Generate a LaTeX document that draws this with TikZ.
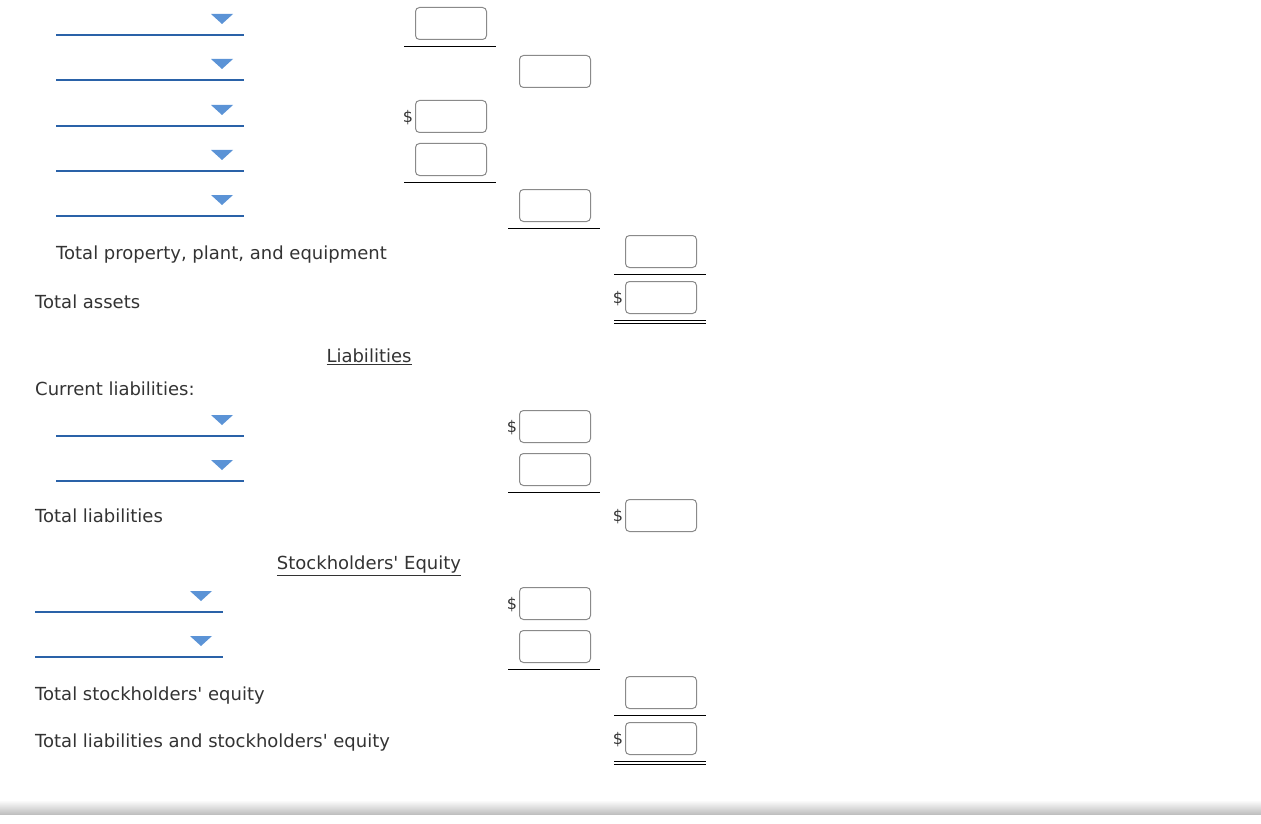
\documentclass[tikz,border=0pt]{standalone}
\usepackage{fontspec}
\setmainfont{DejaVu Sans}
\usetikzlibrary{calc}
\definecolor{lineblue}{HTML}{2A62A8}
\definecolor{triblue}{HTML}{5B93D6}
\definecolor{boxgray}{HTML}{8A8A8A}
\definecolor{txtgray}{HTML}{333333}

\begin{document}
\begin{tikzpicture}[x=1pt,y=-1pt,
  label text/.style={anchor=west,inner sep=0pt,font=\fontsize{18}{20}\selectfont,text=txtgray},
  head text/.style={inner sep=1pt,font=\fontsize{18}{20}\selectfont,text=txtgray},
  ans box/.style={draw=boxgray,line width=1pt,rounded corners=4pt,minimum width=71pt,minimum height=32pt,inner sep=0pt,anchor=north west},
  dollar/.style={font=\fontsize{16}{18}\selectfont,text=txtgray,inner sep=0pt},
  rule line/.style={black,line width=0.8pt},
  drop line/.style={lineblue,line width=2.2pt},
  drop tri/.style={fill=triblue}]

  \useasboundingbox (0,0) rectangle (1261,824);

  % dropdown menus
  \foreach \x/\y/\n in {56/35/d1,56/80/d2,56/126/d3,56/171/d4,56/216/d5,56/436/d6,56/481/d7,35/612/d8,35/657/d9}{
    \coordinate (\n) at (\x,\y);
    \draw[drop line] (\n) -- ++(188,0);
    \fill[drop tri] ($(\n)+(155,-21)$) -- ++(22,0) -- ++(-11,10) -- cycle;
  }

  % answer boxes
  \foreach \x/\y/\n in {
    {415/7/b1}, {519/55/b2}, {415/100/b3}, {415/143/b4}, {519/189/b5},
    {625/235/b6}, {625/281/b7}, {519/410/b8}, {519/453/b9}, {625/499/b10},
    {519/587/b11}, {519/630/b12}, {625/676/b13}, {625/722/b14}}
  \node[ans box] (\n) at (\x,\y) {};

  % dollar signs
  \foreach \n in {b3,b7,b8,b10,b11,b14}
    \node[dollar] at ($(\n.west)+(-7,1)$) {\$};

  % rules under columns
  \foreach \n in {b1,b4,b5,b6,b9,b12,b13}
    \draw[rule line] ($(\n.south west)+(-11,6)$) -- ($(\n.south east)+(9,6)$);
  \foreach \n in {b7,b14}{
    \draw[rule line] ($(\n.south west)+(-11,6)$) -- ($(\n.south east)+(9,6)$);
    \draw[rule line] ($(\n.south west)+(-11,9)$) -- ($(\n.south east)+(9,9)$);
  }

  % labels
  \node[label text] (ppe) at (56,255) {Total property, plant, and equipment};
  \node[label text] (ta) at (35,302) {Total assets};
  \node[head text] (liab) at (369,357) {\underline{Liabilities}};
  \node[label text] (cl) at (35,389) {Current liabilities:};
  \node[label text] (tl) at (35,516) {Total liabilities};
  \node[head text] (se) at (369,566) {\underline{Stockholders\textquotesingle\ Equity}};
  \node[label text] (tse) at (35,696) {Total stockholders\textquotesingle\ equity};
  \node[label text] (tlse) at (35,743) {Total liabilities and stockholders\textquotesingle\ equity};

  % bottom bar
  \shade[top color=white,bottom color=black!25] (0,800) rectangle (1261,814);
\end{tikzpicture}
\end{document}
